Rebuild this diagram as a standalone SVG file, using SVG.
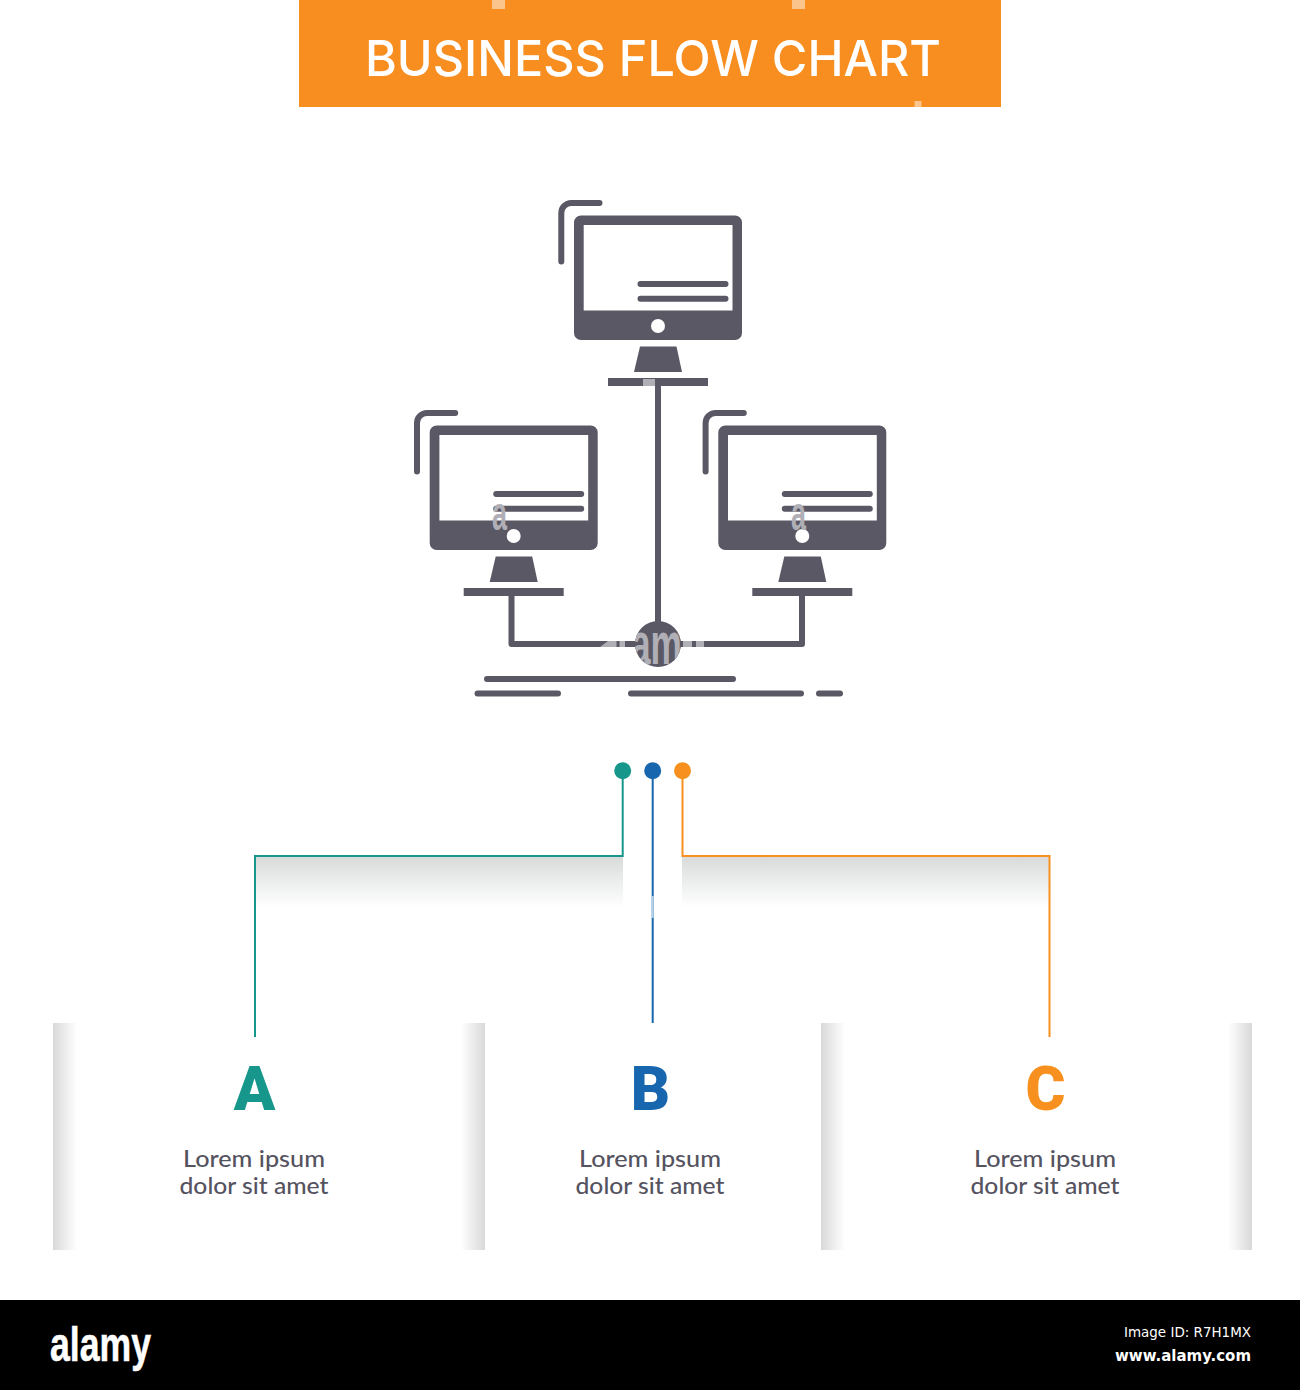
<svg xmlns="http://www.w3.org/2000/svg" xmlns:xlink="http://www.w3.org/1999/xlink" width="1300" height="1390" viewBox="0 0 1300 1390">
<style>
.ink{fill:#5a5865}
.st{fill:none;stroke:#5a5865;stroke-width:6;stroke-linecap:round;stroke-linejoin:round}
.lbl{font-family:"Lato","Open Sans",sans-serif;font-size:23.5px;font-weight:500;fill:#55535f;text-anchor:middle}
.let{font-family:"Roboto","Lato",sans-serif;font-weight:900;font-size:61px;text-anchor:middle}
.wm{font-family:"Liberation Sans",sans-serif;font-weight:700;fill:#b0afb6}
</style>
<defs>
<linearGradient id="gl" x1="0" x2="1" y1="0" y2="0"><stop offset="0" stop-color="#d9d9d9"/><stop offset="1" stop-color="#fff"/></linearGradient>
<linearGradient id="gr" x1="0" x2="1" y1="0" y2="0"><stop offset="0" stop-color="#fff"/><stop offset="1" stop-color="#d9d9d9"/></linearGradient>
<linearGradient id="gd" x1="0" x2="0" y1="0" y2="1"><stop offset="0" stop-color="#d9dbdb"/><stop offset="1" stop-color="#fff"/></linearGradient>
<clipPath id="hubclip"><circle cx="658" cy="644" r="23"/></clipPath>
<g id="mon">
<path class="ink" fill-rule="evenodd" d="M581 215.500H735a7 7 0 0 1 7 7V333a7 7 0 0 1-7 7H581a7 7 0 0 1-7-7V222.500a7 7 0 0 1 7-7ZM583.700 225V310.500H732.500V225Z"/>
<path class="st" d="M561.300 261.500V213a10 10 0 0 1 10-10H599.500"/>
<path class="st" d="M640.500 284H725.500M640.500 298.700H725.500"/>
<circle cx="658" cy="326" r="7" fill="#fff"/>
<path class="ink" d="M640 346.500H676.500L682 372H634Z"/>
<rect class="ink" x="608" y="378" width="100" height="8"/>
</g>
</defs>
<rect width="1300" height="1390" fill="#fff"/>
<g id="header">
<rect x="299" y="0" width="702" height="107" fill="#f88d20"/>
<path d="M492 0H505V9H492ZM792 0H805V9H792ZM914.500 101H921.500V107H914.500Z" fill="#fbc48a"/>
<text x="365" y="76" font-family="Inter,Lato,sans-serif" font-size="49.500" font-weight="500" fill="#fff" textLength="576" lengthAdjust="spacingAndGlyphs">BUSINESS FLOW CHART</text>
</g>
<g id="panels">
<rect x="53" y="1023" width="24" height="227" fill="url(#gl)"/>
<rect x="461" y="1023" width="24" height="227" fill="url(#gr)"/>
<rect x="821" y="1023" width="24" height="227" fill="url(#gl)"/>
<rect x="1228" y="1023" width="24" height="227" fill="url(#gr)"/>
<rect x="256" y="857" width="367" height="50" fill="url(#gd)"/>
<rect x="682" y="857" width="367" height="50" fill="url(#gd)"/>
</g>
<g id="icon-connectors">
<path class="st" d="M658 386V625M511.500 596V644H802V596"/>
</g>
<g id="monitor-top"><use xlink:href="#mon" href="#mon"/></g>
<g id="monitor-left"><use xlink:href="#mon" href="#mon" x="-144.300" y="210"/></g>
<g id="monitor-right"><use xlink:href="#mon" href="#mon" x="144.300" y="210"/></g>
<g id="hub">
<circle class="ink" cx="658" cy="644" r="23"/>
<text class="wm" x="631" y="664" font-size="60" textLength="51" lengthAdjust="spacingAndGlyphs" clip-path="url(#hubclip)">am</text>
<path d="M600 647L608 641H616.500V647ZM619.500 641H625V647H619.500ZM683 641H692V647H683ZM696 641H704V647H696Z" fill="#b0afb6"/>
</g>
<g id="ground">
<path class="st" d="M487 679H733M477.500 693.500H558M631 693.500H801M819 693.500H840"/>
</g>
<g id="watermark-a">
<text class="wm" x="492" y="530" font-size="48" textLength="15" lengthAdjust="spacingAndGlyphs">a</text>
<text class="wm" x="791" y="530" font-size="48" textLength="15" lengthAdjust="spacingAndGlyphs">a</text>
<rect x="643" y="379" width="12" height="7" fill="#b0afb6"/>
</g>
<g id="connectors" fill="none" stroke-width="2">
<path stroke="#17978b" d="M622.700 770V856H255V1037"/>
<path stroke="#1766ae" d="M652.700 770V1023"/>
<path stroke="#f7901e" d="M682.500 770V856H1049.500V1037"/>
<path stroke="#b5d2ea" d="M652.700 896V918"/>
</g>
<g id="dot-a"><circle cx="622.700" cy="770.700" r="8.500" fill="#17978b"/></g>
<g id="dot-b"><circle cx="652.700" cy="770.700" r="8.500" fill="#1766ae"/></g>
<g id="dot-c"><circle cx="682.500" cy="770.700" r="8.500" fill="#f7901e"/></g>
<g id="node-a">
<text class="let" x="254.500" y="1110" fill="#17978b">A</text>
<text class="lbl" x="254" y="1167" textLength="142" lengthAdjust="spacingAndGlyphs">Lorem ipsum</text>
<text class="lbl" x="254" y="1194" textLength="149" lengthAdjust="spacingAndGlyphs">dolor sit amet</text>
</g>
<g id="node-b">
<text class="let" x="650.500" y="1110" fill="#1766ae">B</text>
<text class="lbl" x="650" y="1167" textLength="142" lengthAdjust="spacingAndGlyphs">Lorem ipsum</text>
<text class="lbl" x="650" y="1194" textLength="149" lengthAdjust="spacingAndGlyphs">dolor sit amet</text>
</g>
<g id="node-c">
<text class="let" x="1045.500" y="1110" fill="#f7901e">C</text>
<text class="lbl" x="1045" y="1167" textLength="142" lengthAdjust="spacingAndGlyphs">Lorem ipsum</text>
<text class="lbl" x="1045" y="1194" textLength="149" lengthAdjust="spacingAndGlyphs">dolor sit amet</text>
</g>
<g id="footer">
<rect x="0" y="1300" width="1300" height="90" fill="#000"/>
<text x="50" y="1361" font-family="'Liberation Sans',sans-serif" font-weight="700" font-size="49" fill="#fff" stroke="#fff" stroke-width="0.600" textLength="101" lengthAdjust="spacingAndGlyphs">alamy</text>
<text x="1124" y="1337" font-family="'DejaVu Sans',sans-serif" font-size="14" fill="#fff" textLength="127" lengthAdjust="spacingAndGlyphs">Image ID: R7H1MX</text>
<text x="1115" y="1361" font-family="'DejaVu Sans',sans-serif" font-weight="700" font-size="15" fill="#fff" textLength="136" lengthAdjust="spacingAndGlyphs">www.alamy.com</text>
</g>
</svg>
